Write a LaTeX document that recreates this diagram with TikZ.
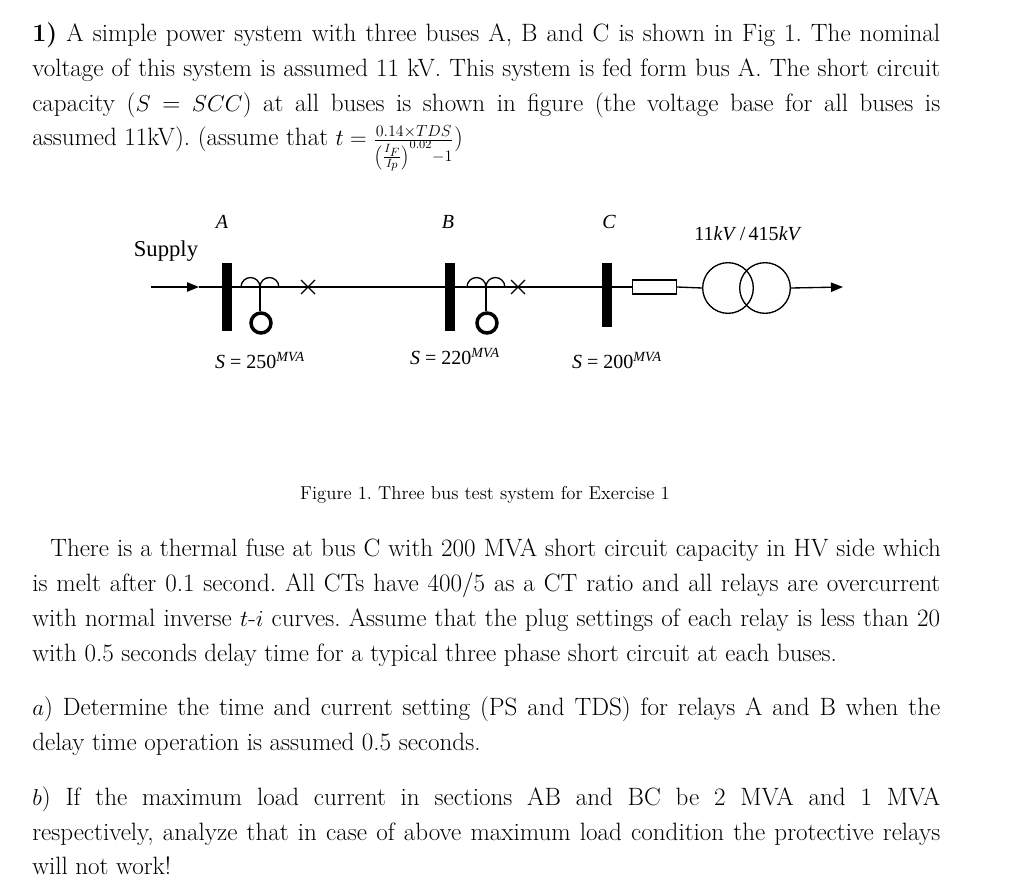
\documentclass[tikz,border=0pt]{standalone}
\usepackage{fontspec}
\newfontfamily\tms{Liberation Serif}
\usetikzlibrary{arrows.meta}
\begin{document}
\frenchspacing
\begin{tikzpicture}[x=0.75pt,y=-0.75pt,
  txt/.style={anchor=base west,inner sep=0pt,font=\fontsize{18.8pt}{26pt}\selectfont},
  lbl/.style={inner sep=0pt,font=\tms\fontsize{15pt}{18pt}\selectfont},
  bar/.style={line width=7pt},
  wire/.style={line width=1pt},
  arr/.style={wire,-{Triangle[length=9pt,width=7pt]}}]
\useasboundingbox (0,0) rectangle (1024,895);
\def\W{681pt}
\node[txt] (l1) at (32,42) {\makebox[\W][s]{\textbf{1)} A simple power system with three buses A, B and C is shown in Fig 1. The nominal}};
\node[txt] (l2) at (32,77) {\makebox[\W][s]{voltage of this system is assumed 11 kV. This system is fed form bus A. The short circuit}};
\node[txt] (l3) at (32,112) {\makebox[\W][s]{capacity ($S$ = $SCC$) at all buses is shown in figure (the voltage base for all buses is}};
\node[txt] (l4) at (32,146) {assumed 11kV). (assume that $t=\frac{0.14\times TDS}{\left(\frac{I_F}{I_p}\right)^{0.02}-1}$)};

% diagram
\node[lbl] (la) at (222,222) {\itshape A};
\node[lbl] (lb) at (448,222) {\itshape B};
\node[lbl] (lc) at (609,222) {\itshape C};
\node[lbl] (lt) at (748,234) {11\textit{kV}\,/\,415\textit{kV}};
\node[lbl,font=\tms\fontsize{17pt}{18pt}\selectfont] (sup) at (166,251) {Supply};
\coordinate (s0) at (151,287);
\coordinate (s1) at (199,287);
\draw[arr] (s0) -- (s1);
\coordinate (bC) at (607,287);
\draw[wire] (s1) -- (bC);
\draw[bar] (227,263) -- (227,331);
\draw[bar] (450,263) -- (450,331);
\draw[bar] (607,263) -- (607,327);
% CTs
\foreach \x in {241,467}{
  \draw[wire] (\x,287) arc[start angle=180,end angle=0,radius=7.1pt] arc[start angle=180,end angle=0,radius=7.1pt];
  \draw[wire] (\x+19,287) -- (\x+19,311);
  \draw[line width=2.6pt] (\x+20,323) circle[radius=7.5pt];
}
% breakers
\foreach \x in {308,518}{
  \draw[wire] (\x-7,280) -- (\x+7,294) (\x-7,294) -- (\x+7,280);
}
\draw[wire] (bC) -- (632,287);
\node[draw,line width=1pt,minimum width=33pt,minimum height=10.5pt,inner sep=0pt] (fuse) at (654.5,287) {};
\node[draw,circle,line width=1pt,minimum size=38pt,inner sep=0pt] (t1) at (728,288) {};
\node[draw,circle,line width=1pt,minimum size=38pt,inner sep=0pt] (t2) at (765,288) {};
\draw[wire] (fuse.east) -- (t1.west);
\coordinate (out) at (843,287);
\draw[arr] (t2.east) -- (out);
\node[lbl] (sa) at (260,360) {\textit{S} = 250\textsuperscript{\itshape MVA}};
\node[lbl] (sb) at (455,356) {\textit{S} = 220\textsuperscript{\itshape MVA}};
\node[lbl] (sc) at (617,360) {\textit{S} = 200\textsuperscript{\itshape MVA}};
\node[inner sep=0pt,font=\fontsize{14pt}{16pt}\selectfont] (cap) at (485,495) {Figure 1. Three bus test system for Exercise 1};

\node[txt] (p1) at (50,556) {\makebox[668pt][s]{There is a thermal fuse at bus C with 200 MVA short circuit capacity in HV side which}};
\node[txt] (p2) at (32,591) {\makebox[\W][s]{is melt after 0.1 second. All CTs have 400/5 as a CT ratio and all relays are overcurrent}};
\node[txt] (p3) at (32,626) {\makebox[\W][s]{with normal inverse $t$-$i$ curves. Assume that the plug settings of each relay is less than 20}};
\node[txt] (p4) at (32,661) {with 0.5 seconds delay time for a typical three phase short circuit at each buses.};
\node[txt] (a1) at (32,715) {\makebox[\W][s]{$a$) Determine the time and current setting (PS and TDS) for relays A and B when the}};
\node[txt] (a2) at (32,750) {delay time operation is assumed 0.5 seconds.};
\node[txt] (b1) at (32,805) {\makebox[\W][s]{$b$) If the maximum load current in sections AB and BC be 2 MVA and 1 MVA}};
\node[txt] (b2) at (32,840) {\makebox[\W][s]{respectively, analyze that in case of above maximum load condition the protective relays}};
\node[txt] (b3) at (32,874) {will not work!};
\end{tikzpicture}
\end{document}
